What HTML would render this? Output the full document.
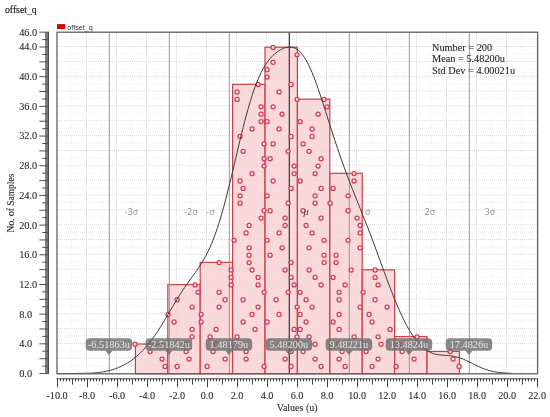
<!DOCTYPE html><html><head><meta charset="utf-8"><style>html,body{margin:0;padding:0;background:#fff;width:550px;height:417px;overflow:hidden}svg{display:block}</style></head><body>
<svg width="550" height="417" viewBox="0 0 550 417">
<style>.t{font-family:"Liberation Serif",serif;fill:#262626;stroke:#262626;stroke-width:0.08px}.s{font-family:"Liberation Sans",sans-serif;fill:#333}</style>
<rect width="550" height="417" fill="#fff"/>
<text x="5" y="13.0" class="t" font-size="9.7" style="stroke-width:0.2px">offset_q</text>
<rect x="57" y="24.1" width="8.2" height="5" fill="#e00000"/>
<text x="67.3" y="29.7" class="s" font-size="7.2">offset_q</text>
<line x1="71.50" y1="33.2" x2="71.50" y2="373.0" stroke="#efefef" stroke-width="1" stroke-dasharray="1 1"/><line x1="86.50" y1="33.2" x2="86.50" y2="373.0" stroke="#d6d6d6" stroke-width="1" stroke-dasharray="1 1"/><line x1="101.50" y1="33.2" x2="101.50" y2="373.0" stroke="#efefef" stroke-width="1" stroke-dasharray="1 1"/><line x1="116.50" y1="33.2" x2="116.50" y2="373.0" stroke="#d6d6d6" stroke-width="1" stroke-dasharray="1 1"/><line x1="131.50" y1="33.2" x2="131.50" y2="373.0" stroke="#efefef" stroke-width="1" stroke-dasharray="1 1"/><line x1="146.50" y1="33.2" x2="146.50" y2="373.0" stroke="#d6d6d6" stroke-width="1" stroke-dasharray="1 1"/><line x1="161.50" y1="33.2" x2="161.50" y2="373.0" stroke="#efefef" stroke-width="1" stroke-dasharray="1 1"/><line x1="176.50" y1="33.2" x2="176.50" y2="373.0" stroke="#d6d6d6" stroke-width="1" stroke-dasharray="1 1"/><line x1="191.50" y1="33.2" x2="191.50" y2="373.0" stroke="#efefef" stroke-width="1" stroke-dasharray="1 1"/><line x1="206.50" y1="33.2" x2="206.50" y2="373.0" stroke="#d6d6d6" stroke-width="1" stroke-dasharray="1 1"/><line x1="221.50" y1="33.2" x2="221.50" y2="373.0" stroke="#efefef" stroke-width="1" stroke-dasharray="1 1"/><line x1="236.50" y1="33.2" x2="236.50" y2="373.0" stroke="#d6d6d6" stroke-width="1" stroke-dasharray="1 1"/><line x1="251.50" y1="33.2" x2="251.50" y2="373.0" stroke="#efefef" stroke-width="1" stroke-dasharray="1 1"/><line x1="266.50" y1="33.2" x2="266.50" y2="373.0" stroke="#d6d6d6" stroke-width="1" stroke-dasharray="1 1"/><line x1="281.50" y1="33.2" x2="281.50" y2="373.0" stroke="#efefef" stroke-width="1" stroke-dasharray="1 1"/><line x1="296.50" y1="33.2" x2="296.50" y2="373.0" stroke="#d6d6d6" stroke-width="1" stroke-dasharray="1 1"/><line x1="311.50" y1="33.2" x2="311.50" y2="373.0" stroke="#efefef" stroke-width="1" stroke-dasharray="1 1"/><line x1="326.50" y1="33.2" x2="326.50" y2="373.0" stroke="#d6d6d6" stroke-width="1" stroke-dasharray="1 1"/><line x1="341.50" y1="33.2" x2="341.50" y2="373.0" stroke="#efefef" stroke-width="1" stroke-dasharray="1 1"/><line x1="356.50" y1="33.2" x2="356.50" y2="373.0" stroke="#d6d6d6" stroke-width="1" stroke-dasharray="1 1"/><line x1="371.50" y1="33.2" x2="371.50" y2="373.0" stroke="#efefef" stroke-width="1" stroke-dasharray="1 1"/><line x1="386.50" y1="33.2" x2="386.50" y2="373.0" stroke="#d6d6d6" stroke-width="1" stroke-dasharray="1 1"/><line x1="401.50" y1="33.2" x2="401.50" y2="373.0" stroke="#efefef" stroke-width="1" stroke-dasharray="1 1"/><line x1="416.50" y1="33.2" x2="416.50" y2="373.0" stroke="#d6d6d6" stroke-width="1" stroke-dasharray="1 1"/><line x1="431.50" y1="33.2" x2="431.50" y2="373.0" stroke="#efefef" stroke-width="1" stroke-dasharray="1 1"/><line x1="446.50" y1="33.2" x2="446.50" y2="373.0" stroke="#d6d6d6" stroke-width="1" stroke-dasharray="1 1"/><line x1="461.50" y1="33.2" x2="461.50" y2="373.0" stroke="#efefef" stroke-width="1" stroke-dasharray="1 1"/><line x1="476.50" y1="33.2" x2="476.50" y2="373.0" stroke="#d6d6d6" stroke-width="1" stroke-dasharray="1 1"/><line x1="491.50" y1="33.2" x2="491.50" y2="373.0" stroke="#efefef" stroke-width="1" stroke-dasharray="1 1"/><line x1="506.50" y1="33.2" x2="506.50" y2="373.0" stroke="#d6d6d6" stroke-width="1" stroke-dasharray="1 1"/><line x1="521.50" y1="33.2" x2="521.50" y2="373.0" stroke="#efefef" stroke-width="1" stroke-dasharray="1 1"/><line x1="58.0" y1="365.68" x2="536.6" y2="365.68" stroke="#efefef" stroke-width="1" stroke-dasharray="1 1"/><line x1="58.0" y1="358.26" x2="536.6" y2="358.26" stroke="#d6d6d6" stroke-width="1" stroke-dasharray="1 1"/><line x1="58.0" y1="350.84" x2="536.6" y2="350.84" stroke="#efefef" stroke-width="1" stroke-dasharray="1 1"/><line x1="58.0" y1="343.42" x2="536.6" y2="343.42" stroke="#d6d6d6" stroke-width="1" stroke-dasharray="1 1"/><line x1="58.0" y1="336.00" x2="536.6" y2="336.00" stroke="#efefef" stroke-width="1" stroke-dasharray="1 1"/><line x1="58.0" y1="328.58" x2="536.6" y2="328.58" stroke="#d6d6d6" stroke-width="1" stroke-dasharray="1 1"/><line x1="58.0" y1="321.16" x2="536.6" y2="321.16" stroke="#efefef" stroke-width="1" stroke-dasharray="1 1"/><line x1="58.0" y1="313.74" x2="536.6" y2="313.74" stroke="#d6d6d6" stroke-width="1" stroke-dasharray="1 1"/><line x1="58.0" y1="306.32" x2="536.6" y2="306.32" stroke="#efefef" stroke-width="1" stroke-dasharray="1 1"/><line x1="58.0" y1="298.90" x2="536.6" y2="298.90" stroke="#d6d6d6" stroke-width="1" stroke-dasharray="1 1"/><line x1="58.0" y1="291.48" x2="536.6" y2="291.48" stroke="#efefef" stroke-width="1" stroke-dasharray="1 1"/><line x1="58.0" y1="284.06" x2="536.6" y2="284.06" stroke="#d6d6d6" stroke-width="1" stroke-dasharray="1 1"/><line x1="58.0" y1="276.64" x2="536.6" y2="276.64" stroke="#efefef" stroke-width="1" stroke-dasharray="1 1"/><line x1="58.0" y1="269.22" x2="536.6" y2="269.22" stroke="#d6d6d6" stroke-width="1" stroke-dasharray="1 1"/><line x1="58.0" y1="261.80" x2="536.6" y2="261.80" stroke="#efefef" stroke-width="1" stroke-dasharray="1 1"/><line x1="58.0" y1="254.38" x2="536.6" y2="254.38" stroke="#d6d6d6" stroke-width="1" stroke-dasharray="1 1"/><line x1="58.0" y1="246.96" x2="536.6" y2="246.96" stroke="#efefef" stroke-width="1" stroke-dasharray="1 1"/><line x1="58.0" y1="239.54" x2="536.6" y2="239.54" stroke="#d6d6d6" stroke-width="1" stroke-dasharray="1 1"/><line x1="58.0" y1="232.12" x2="536.6" y2="232.12" stroke="#efefef" stroke-width="1" stroke-dasharray="1 1"/><line x1="58.0" y1="224.70" x2="536.6" y2="224.70" stroke="#d6d6d6" stroke-width="1" stroke-dasharray="1 1"/><line x1="58.0" y1="217.28" x2="536.6" y2="217.28" stroke="#efefef" stroke-width="1" stroke-dasharray="1 1"/><line x1="58.0" y1="209.86" x2="536.6" y2="209.86" stroke="#d6d6d6" stroke-width="1" stroke-dasharray="1 1"/><line x1="58.0" y1="202.44" x2="536.6" y2="202.44" stroke="#efefef" stroke-width="1" stroke-dasharray="1 1"/><line x1="58.0" y1="195.02" x2="536.6" y2="195.02" stroke="#d6d6d6" stroke-width="1" stroke-dasharray="1 1"/><line x1="58.0" y1="187.60" x2="536.6" y2="187.60" stroke="#efefef" stroke-width="1" stroke-dasharray="1 1"/><line x1="58.0" y1="180.18" x2="536.6" y2="180.18" stroke="#d6d6d6" stroke-width="1" stroke-dasharray="1 1"/><line x1="58.0" y1="172.76" x2="536.6" y2="172.76" stroke="#efefef" stroke-width="1" stroke-dasharray="1 1"/><line x1="58.0" y1="165.34" x2="536.6" y2="165.34" stroke="#d6d6d6" stroke-width="1" stroke-dasharray="1 1"/><line x1="58.0" y1="157.92" x2="536.6" y2="157.92" stroke="#efefef" stroke-width="1" stroke-dasharray="1 1"/><line x1="58.0" y1="150.50" x2="536.6" y2="150.50" stroke="#d6d6d6" stroke-width="1" stroke-dasharray="1 1"/><line x1="58.0" y1="143.08" x2="536.6" y2="143.08" stroke="#efefef" stroke-width="1" stroke-dasharray="1 1"/><line x1="58.0" y1="135.66" x2="536.6" y2="135.66" stroke="#d6d6d6" stroke-width="1" stroke-dasharray="1 1"/><line x1="58.0" y1="128.24" x2="536.6" y2="128.24" stroke="#efefef" stroke-width="1" stroke-dasharray="1 1"/><line x1="58.0" y1="120.82" x2="536.6" y2="120.82" stroke="#d6d6d6" stroke-width="1" stroke-dasharray="1 1"/><line x1="58.0" y1="113.40" x2="536.6" y2="113.40" stroke="#efefef" stroke-width="1" stroke-dasharray="1 1"/><line x1="58.0" y1="105.98" x2="536.6" y2="105.98" stroke="#d6d6d6" stroke-width="1" stroke-dasharray="1 1"/><line x1="58.0" y1="98.56" x2="536.6" y2="98.56" stroke="#efefef" stroke-width="1" stroke-dasharray="1 1"/><line x1="58.0" y1="91.14" x2="536.6" y2="91.14" stroke="#d6d6d6" stroke-width="1" stroke-dasharray="1 1"/><line x1="58.0" y1="83.72" x2="536.6" y2="83.72" stroke="#efefef" stroke-width="1" stroke-dasharray="1 1"/><line x1="58.0" y1="76.30" x2="536.6" y2="76.30" stroke="#d6d6d6" stroke-width="1" stroke-dasharray="1 1"/><line x1="58.0" y1="68.88" x2="536.6" y2="68.88" stroke="#efefef" stroke-width="1" stroke-dasharray="1 1"/><line x1="58.0" y1="61.46" x2="536.6" y2="61.46" stroke="#d6d6d6" stroke-width="1" stroke-dasharray="1 1"/><line x1="58.0" y1="54.04" x2="536.6" y2="54.04" stroke="#efefef" stroke-width="1" stroke-dasharray="1 1"/><line x1="58.0" y1="46.62" x2="536.6" y2="46.62" stroke="#d6d6d6" stroke-width="1" stroke-dasharray="1 1"/><line x1="58.0" y1="39.20" x2="536.6" y2="39.20" stroke="#efefef" stroke-width="1" stroke-dasharray="1 1"/>
<rect x="135.40" y="344.02" width="32.40" height="29.78" fill="#f8d0d2" fill-opacity="0.8" stroke="#cc4048" stroke-width="1.2"/><rect x="167.80" y="284.66" width="32.40" height="89.14" fill="#f8d0d2" fill-opacity="0.8" stroke="#cc4048" stroke-width="1.2"/><rect x="200.20" y="262.40" width="32.40" height="111.40" fill="#f8d0d2" fill-opacity="0.8" stroke="#cc4048" stroke-width="1.2"/><rect x="232.60" y="84.32" width="32.40" height="289.48" fill="#f8d0d2" fill-opacity="0.8" stroke="#cc4048" stroke-width="1.2"/><rect x="265.00" y="47.22" width="32.40" height="326.58" fill="#f8d0d2" fill-opacity="0.8" stroke="#cc4048" stroke-width="1.2"/><rect x="297.40" y="99.16" width="32.40" height="274.64" fill="#f8d0d2" fill-opacity="0.8" stroke="#cc4048" stroke-width="1.2"/><rect x="329.80" y="173.36" width="32.40" height="200.44" fill="#f8d0d2" fill-opacity="0.8" stroke="#cc4048" stroke-width="1.2"/><rect x="362.20" y="269.82" width="32.40" height="103.98" fill="#f8d0d2" fill-opacity="0.8" stroke="#cc4048" stroke-width="1.2"/><rect x="394.60" y="336.60" width="32.40" height="37.20" fill="#f8d0d2" fill-opacity="0.8" stroke="#cc4048" stroke-width="1.2"/><rect x="427.00" y="351.44" width="32.40" height="22.36" fill="#f8d0d2" fill-opacity="0.8" stroke="#cc4048" stroke-width="1.2"/>
<line x1="109.32" y1="32.2" x2="109.32" y2="373.8" stroke="#9a9a9a" stroke-width="1"/>
<line x1="169.32" y1="32.2" x2="169.32" y2="373.8" stroke="#9a9a9a" stroke-width="1"/>
<line x1="229.33" y1="32.2" x2="229.33" y2="373.8" stroke="#9a9a9a" stroke-width="1"/>
<line x1="349.33" y1="32.2" x2="349.33" y2="373.8" stroke="#9a9a9a" stroke-width="1"/>
<line x1="409.34" y1="32.2" x2="409.34" y2="373.8" stroke="#9a9a9a" stroke-width="1"/>
<line x1="469.34" y1="32.2" x2="469.34" y2="373.8" stroke="#9a9a9a" stroke-width="1"/>
<line x1="289.33" y1="32.2" x2="289.33" y2="373.8" stroke="#444" stroke-width="1.3"/>
<g fill="#fcecea" fill-opacity="0.85" stroke="#d43a50" stroke-width="1.25"><circle cx="165.1" cy="366.5" r="2.05"/><circle cx="162.1" cy="359.1" r="2.05"/><circle cx="150.1" cy="351.6" r="2.05"/><circle cx="135.1" cy="344.2" r="2.05"/><circle cx="177.1" cy="366.5" r="2.05"/><circle cx="189.1" cy="359.1" r="2.05"/><circle cx="186.1" cy="351.6" r="2.05"/><circle cx="186.1" cy="344.2" r="2.05"/><circle cx="192.1" cy="336.8" r="2.05"/><circle cx="192.1" cy="329.4" r="2.05"/><circle cx="174.1" cy="322.0" r="2.05"/><circle cx="168.1" cy="314.5" r="2.05"/><circle cx="192.1" cy="307.1" r="2.05"/><circle cx="177.1" cy="299.7" r="2.05"/><circle cx="198.1" cy="292.3" r="2.05"/><circle cx="195.1" cy="284.9" r="2.05"/><circle cx="207.1" cy="366.5" r="2.05"/><circle cx="225.1" cy="359.1" r="2.05"/><circle cx="213.1" cy="351.6" r="2.05"/><circle cx="216.1" cy="344.2" r="2.05"/><circle cx="210.1" cy="336.8" r="2.05"/><circle cx="216.1" cy="329.4" r="2.05"/><circle cx="201.1" cy="322.0" r="2.05"/><circle cx="201.1" cy="314.5" r="2.05"/><circle cx="219.1" cy="307.1" r="2.05"/><circle cx="225.1" cy="299.7" r="2.05"/><circle cx="219.1" cy="292.3" r="2.05"/><circle cx="231.1" cy="284.9" r="2.05"/><circle cx="231.1" cy="277.4" r="2.05"/><circle cx="231.1" cy="270.0" r="2.05"/><circle cx="219.1" cy="262.6" r="2.05"/><circle cx="264.1" cy="366.5" r="2.05"/><circle cx="246.1" cy="359.1" r="2.05"/><circle cx="246.1" cy="351.6" r="2.05"/><circle cx="234.1" cy="344.2" r="2.05"/><circle cx="237.1" cy="336.8" r="2.05"/><circle cx="255.1" cy="329.4" r="2.05"/><circle cx="243.1" cy="322.0" r="2.05"/><circle cx="252.1" cy="314.5" r="2.05"/><circle cx="258.1" cy="307.1" r="2.05"/><circle cx="243.1" cy="299.7" r="2.05"/><circle cx="264.1" cy="292.3" r="2.05"/><circle cx="258.1" cy="284.9" r="2.05"/><circle cx="258.1" cy="277.4" r="2.05"/><circle cx="252.1" cy="270.0" r="2.05"/><circle cx="249.1" cy="262.6" r="2.05"/><circle cx="249.1" cy="255.2" r="2.05"/><circle cx="249.1" cy="247.8" r="2.05"/><circle cx="234.1" cy="240.3" r="2.05"/><circle cx="246.1" cy="232.9" r="2.05"/><circle cx="249.1" cy="225.5" r="2.05"/><circle cx="261.1" cy="218.1" r="2.05"/><circle cx="264.1" cy="210.7" r="2.05"/><circle cx="240.1" cy="203.2" r="2.05"/><circle cx="240.1" cy="195.8" r="2.05"/><circle cx="243.1" cy="188.4" r="2.05"/><circle cx="240.1" cy="181.0" r="2.05"/><circle cx="252.1" cy="173.6" r="2.05"/><circle cx="264.1" cy="166.1" r="2.05"/><circle cx="264.1" cy="158.7" r="2.05"/><circle cx="243.1" cy="151.3" r="2.05"/><circle cx="264.1" cy="143.9" r="2.05"/><circle cx="240.1" cy="136.5" r="2.05"/><circle cx="252.1" cy="129.0" r="2.05"/><circle cx="261.1" cy="121.6" r="2.05"/><circle cx="261.1" cy="114.2" r="2.05"/><circle cx="261.1" cy="106.8" r="2.05"/><circle cx="237.1" cy="99.4" r="2.05"/><circle cx="237.1" cy="91.9" r="2.05"/><circle cx="258.1" cy="84.5" r="2.05"/><circle cx="291.1" cy="366.5" r="2.05"/><circle cx="285.1" cy="359.1" r="2.05"/><circle cx="291.1" cy="351.6" r="2.05"/><circle cx="297.1" cy="344.2" r="2.05"/><circle cx="297.1" cy="336.8" r="2.05"/><circle cx="294.1" cy="329.4" r="2.05"/><circle cx="267.1" cy="322.0" r="2.05"/><circle cx="279.1" cy="314.5" r="2.05"/><circle cx="297.1" cy="307.1" r="2.05"/><circle cx="276.1" cy="299.7" r="2.05"/><circle cx="288.1" cy="292.3" r="2.05"/><circle cx="294.1" cy="284.9" r="2.05"/><circle cx="291.1" cy="277.4" r="2.05"/><circle cx="285.1" cy="270.0" r="2.05"/><circle cx="291.1" cy="262.6" r="2.05"/><circle cx="270.1" cy="255.2" r="2.05"/><circle cx="282.1" cy="247.8" r="2.05"/><circle cx="267.1" cy="240.3" r="2.05"/><circle cx="279.1" cy="232.9" r="2.05"/><circle cx="285.1" cy="225.5" r="2.05"/><circle cx="285.1" cy="218.1" r="2.05"/><circle cx="270.1" cy="210.7" r="2.05"/><circle cx="288.1" cy="203.2" r="2.05"/><circle cx="267.1" cy="195.8" r="2.05"/><circle cx="291.1" cy="188.4" r="2.05"/><circle cx="273.1" cy="181.0" r="2.05"/><circle cx="294.1" cy="173.6" r="2.05"/><circle cx="294.1" cy="166.1" r="2.05"/><circle cx="270.1" cy="158.7" r="2.05"/><circle cx="288.1" cy="151.3" r="2.05"/><circle cx="273.1" cy="143.9" r="2.05"/><circle cx="291.1" cy="136.5" r="2.05"/><circle cx="279.1" cy="129.0" r="2.05"/><circle cx="267.1" cy="121.6" r="2.05"/><circle cx="282.1" cy="114.2" r="2.05"/><circle cx="273.1" cy="106.8" r="2.05"/><circle cx="297.1" cy="99.4" r="2.05"/><circle cx="279.1" cy="91.9" r="2.05"/><circle cx="291.1" cy="84.5" r="2.05"/><circle cx="267.1" cy="77.1" r="2.05"/><circle cx="267.1" cy="69.7" r="2.05"/><circle cx="273.1" cy="62.3" r="2.05"/><circle cx="297.1" cy="54.8" r="2.05"/><circle cx="273.1" cy="47.4" r="2.05"/><circle cx="321.1" cy="366.5" r="2.05"/><circle cx="315.1" cy="359.1" r="2.05"/><circle cx="303.1" cy="351.6" r="2.05"/><circle cx="315.1" cy="344.2" r="2.05"/><circle cx="309.1" cy="336.8" r="2.05"/><circle cx="300.1" cy="329.4" r="2.05"/><circle cx="306.1" cy="322.0" r="2.05"/><circle cx="300.1" cy="314.5" r="2.05"/><circle cx="312.1" cy="307.1" r="2.05"/><circle cx="306.1" cy="299.7" r="2.05"/><circle cx="300.1" cy="292.3" r="2.05"/><circle cx="321.1" cy="284.9" r="2.05"/><circle cx="315.1" cy="277.4" r="2.05"/><circle cx="309.1" cy="270.0" r="2.05"/><circle cx="324.1" cy="262.6" r="2.05"/><circle cx="324.1" cy="255.2" r="2.05"/><circle cx="309.1" cy="247.8" r="2.05"/><circle cx="324.1" cy="240.3" r="2.05"/><circle cx="312.1" cy="232.9" r="2.05"/><circle cx="306.1" cy="225.5" r="2.05"/><circle cx="321.1" cy="218.1" r="2.05"/><circle cx="303.1" cy="210.7" r="2.05"/><circle cx="315.1" cy="203.2" r="2.05"/><circle cx="315.1" cy="195.8" r="2.05"/><circle cx="321.1" cy="188.4" r="2.05"/><circle cx="300.1" cy="181.0" r="2.05"/><circle cx="315.1" cy="173.6" r="2.05"/><circle cx="318.1" cy="166.1" r="2.05"/><circle cx="321.1" cy="158.7" r="2.05"/><circle cx="309.1" cy="151.3" r="2.05"/><circle cx="303.1" cy="143.9" r="2.05"/><circle cx="312.1" cy="136.5" r="2.05"/><circle cx="312.1" cy="129.0" r="2.05"/><circle cx="300.1" cy="121.6" r="2.05"/><circle cx="318.1" cy="114.2" r="2.05"/><circle cx="327.1" cy="106.8" r="2.05"/><circle cx="324.1" cy="99.4" r="2.05"/><circle cx="345.1" cy="366.5" r="2.05"/><circle cx="339.1" cy="359.1" r="2.05"/><circle cx="342.1" cy="351.6" r="2.05"/><circle cx="339.1" cy="344.2" r="2.05"/><circle cx="354.1" cy="336.8" r="2.05"/><circle cx="339.1" cy="329.4" r="2.05"/><circle cx="333.1" cy="322.0" r="2.05"/><circle cx="339.1" cy="314.5" r="2.05"/><circle cx="360.1" cy="307.1" r="2.05"/><circle cx="339.1" cy="299.7" r="2.05"/><circle cx="339.1" cy="292.3" r="2.05"/><circle cx="345.1" cy="284.9" r="2.05"/><circle cx="333.1" cy="277.4" r="2.05"/><circle cx="351.1" cy="270.0" r="2.05"/><circle cx="336.1" cy="262.6" r="2.05"/><circle cx="336.1" cy="255.2" r="2.05"/><circle cx="360.1" cy="247.8" r="2.05"/><circle cx="348.1" cy="240.3" r="2.05"/><circle cx="360.1" cy="232.9" r="2.05"/><circle cx="360.1" cy="225.5" r="2.05"/><circle cx="357.1" cy="218.1" r="2.05"/><circle cx="348.1" cy="210.7" r="2.05"/><circle cx="330.1" cy="203.2" r="2.05"/><circle cx="348.1" cy="195.8" r="2.05"/><circle cx="333.1" cy="188.4" r="2.05"/><circle cx="354.1" cy="181.0" r="2.05"/><circle cx="354.1" cy="173.6" r="2.05"/><circle cx="372.1" cy="366.5" r="2.05"/><circle cx="378.1" cy="359.1" r="2.05"/><circle cx="366.1" cy="351.6" r="2.05"/><circle cx="381.1" cy="344.2" r="2.05"/><circle cx="378.1" cy="336.8" r="2.05"/><circle cx="390.1" cy="329.4" r="2.05"/><circle cx="372.1" cy="322.0" r="2.05"/><circle cx="369.1" cy="314.5" r="2.05"/><circle cx="387.1" cy="307.1" r="2.05"/><circle cx="375.1" cy="299.7" r="2.05"/><circle cx="363.1" cy="292.3" r="2.05"/><circle cx="378.1" cy="284.9" r="2.05"/><circle cx="375.1" cy="277.4" r="2.05"/><circle cx="375.1" cy="270.0" r="2.05"/><circle cx="396.1" cy="366.5" r="2.05"/><circle cx="414.1" cy="359.1" r="2.05"/><circle cx="402.1" cy="351.6" r="2.05"/><circle cx="399.1" cy="344.2" r="2.05"/><circle cx="417.1" cy="336.8" r="2.05"/><circle cx="459.1" cy="366.5" r="2.05"/><circle cx="453.1" cy="359.1" r="2.05"/><circle cx="450.1" cy="351.6" r="2.05"/></g>
<path d="M57.1,373.5 L58.6,373.5 L60.1,373.5 L61.6,373.5 L63.1,373.5 L64.6,373.5 L66.1,373.5 L67.6,373.5 L69.1,373.5 L70.6,373.5 L72.1,373.5 L73.6,373.5 L75.1,373.5 L76.6,373.4 L78.1,373.4 L79.6,373.4 L81.1,373.4 L82.6,373.4 L84.1,373.3 L85.6,373.3 L87.1,373.3 L88.6,373.2 L90.1,373.1 L91.6,373.1 L93.1,373.0 L94.6,372.9 L96.1,372.7 L97.6,372.6 L99.1,372.4 L100.6,372.2 L102.1,372.0 L103.6,371.8 L105.1,371.5 L106.6,371.2 L108.1,370.9 L109.6,370.5 L111.1,370.1 L112.6,369.7 L114.1,369.2 L115.6,368.7 L117.1,368.1 L118.6,367.5 L120.1,366.9 L121.6,366.2 L123.1,365.4 L124.6,364.7 L126.1,363.8 L127.6,362.9 L129.1,362.0 L130.6,361.0 L132.1,359.9 L133.6,358.8 L135.1,357.6 L136.6,356.4 L138.1,355.1 L139.6,353.7 L141.1,352.2 L142.6,350.7 L144.1,349.1 L145.6,347.4 L147.1,345.7 L148.6,343.9 L150.1,342.0 L151.6,340.0 L153.1,337.9 L154.6,335.8 L156.1,333.6 L157.6,331.4 L159.1,329.1 L160.6,326.7 L162.1,324.3 L163.6,321.8 L165.1,319.3 L166.6,316.8 L168.1,314.3 L169.6,311.7 L171.1,309.2 L172.6,306.7 L174.1,304.1 L175.6,301.7 L177.1,299.2 L178.6,296.8 L180.1,294.4 L181.6,292.1 L183.1,289.8 L184.6,287.5 L186.1,285.3 L187.6,283.2 L189.1,281.0 L190.6,278.9 L192.1,276.9 L193.6,274.8 L195.1,272.7 L196.6,270.6 L198.1,268.4 L199.6,266.2 L201.1,263.9 L202.6,261.4 L204.1,258.9 L205.6,256.2 L207.1,253.4 L208.6,250.3 L210.1,247.1 L211.6,243.6 L213.1,239.9 L214.6,236.0 L216.1,231.8 L217.6,227.4 L219.1,222.7 L220.6,217.8 L222.1,212.7 L223.6,207.3 L225.1,201.7 L226.6,195.9 L228.1,190.0 L229.6,183.9 L231.1,177.7 L232.6,171.4 L234.1,165.1 L235.6,158.7 L237.1,152.4 L238.6,146.0 L240.1,139.8 L241.6,133.6 L243.1,127.6 L244.6,121.7 L246.1,116.0 L247.6,110.6 L249.1,105.3 L250.6,100.3 L252.1,95.5 L253.6,91.0 L255.1,86.8 L256.6,82.8 L258.1,79.2 L259.6,75.8 L261.1,72.6 L262.6,69.7 L264.1,67.1 L265.6,64.6 L267.1,62.4 L268.6,60.4 L270.1,58.6 L271.6,56.9 L273.1,55.4 L274.6,54.0 L276.1,52.8 L277.6,51.6 L279.1,50.6 L280.6,49.8 L282.1,49.0 L283.6,48.3 L285.1,47.8 L286.6,47.4 L288.1,47.1 L289.6,47.0 L291.1,47.1 L292.6,47.3 L294.1,47.8 L295.6,48.5 L297.1,49.4 L298.6,50.5 L300.1,51.9 L301.6,53.6 L303.1,55.5 L304.6,57.7 L306.1,60.2 L307.6,62.9 L309.1,65.9 L310.6,69.2 L312.1,72.6 L313.6,76.3 L315.1,80.3 L316.6,84.3 L318.1,88.6 L319.6,93.0 L321.1,97.5 L322.6,102.1 L324.1,106.7 L325.6,111.4 L327.1,116.2 L328.6,120.9 L330.1,125.6 L331.6,130.3 L333.1,135.0 L334.6,139.6 L336.1,144.1 L337.6,148.6 L339.1,153.0 L340.6,157.4 L342.1,161.6 L343.6,165.8 L345.1,169.9 L346.6,173.9 L348.1,177.9 L349.6,181.8 L351.1,185.7 L352.6,189.5 L354.1,193.3 L355.6,197.1 L357.1,200.8 L358.6,204.5 L360.1,208.3 L361.6,212.0 L363.1,215.8 L364.6,219.6 L366.1,223.4 L367.6,227.2 L369.1,231.1 L370.6,235.0 L372.1,239.0 L373.6,243.0 L375.1,247.0 L376.6,251.1 L378.1,255.2 L379.6,259.3 L381.1,263.4 L382.6,267.5 L384.1,271.6 L385.6,275.7 L387.1,279.7 L388.6,283.8 L390.1,287.7 L391.6,291.6 L393.1,295.5 L394.6,299.2 L396.1,302.9 L397.6,306.4 L399.1,309.9 L400.6,313.2 L402.1,316.4 L403.6,319.5 L405.1,322.5 L406.6,325.3 L408.1,328.0 L409.6,330.6 L411.1,333.0 L412.6,335.3 L414.1,337.5 L415.6,339.5 L417.1,341.4 L418.6,343.2 L420.1,344.8 L421.6,346.3 L423.1,347.6 L424.6,348.9 L426.1,350.0 L427.6,350.9 L429.1,351.8 L430.6,352.5 L432.1,353.1 L433.6,353.6 L435.1,354.1 L436.6,354.4 L438.1,354.7 L439.6,354.9 L441.1,355.1 L442.6,355.2 L444.1,355.3 L445.6,355.4 L447.1,355.5 L448.6,355.7 L450.1,355.8 L451.6,356.0 L453.1,356.2 L454.6,356.5 L456.1,356.9 L457.6,357.2 L459.1,357.7 L460.6,358.2 L462.1,358.7 L463.6,359.3 L465.1,360.0 L466.6,360.7 L468.1,361.4 L469.6,362.1 L471.1,362.8 L472.6,363.6 L474.1,364.3 L475.6,365.1 L477.1,365.8 L478.6,366.5 L480.1,367.2 L481.6,367.8 L483.1,368.4 L484.6,369.0 L486.1,369.5 L487.6,370.0 L489.1,370.5 L490.6,370.9 L492.1,371.2 L493.6,371.6 L495.1,371.8 L496.6,372.1 L498.1,372.3 L499.6,372.5 L501.1,372.7 L502.6,372.8 L504.1,372.9 L505.6,373.0 L507.1,373.1 L508.6,373.2 L510.1,373.3 L511.6,373.3" fill="none" stroke="#3a3a3a" stroke-width="1"/>
<rect x="57.0" y="32.2" width="480.6" height="341.6" fill="none" stroke="#606060" stroke-width="1.3"/>
<text x="124.4" y="214.8" font-family="DejaVu Sans, sans-serif" font-size="8.5" fill="#999">-3σ</text>
<text x="184.0" y="214.8" font-family="DejaVu Sans, sans-serif" font-size="8.5" fill="#999">-2σ</text>
<text x="206.1" y="214.8" font-family="DejaVu Sans, sans-serif" font-size="8.5" fill="#999">-σ</text>
<text x="303.6" y="215.3" font-family="Liberation Serif, serif" font-style="italic" font-size="10" fill="#444">μ</text>
<text x="365.0" y="214.8" font-family="DejaVu Sans, sans-serif" font-size="8.5" fill="#999">σ</text>
<text x="424.4" y="214.8" font-family="DejaVu Sans, sans-serif" font-size="8.5" fill="#999">2σ</text>
<text x="484.4" y="214.8" font-family="DejaVu Sans, sans-serif" font-size="8.5" fill="#999">3σ</text>
<text x="432" y="50.7" class="t" font-size="10.3">Number = 200</text>
<text x="432" y="62.3" class="t" font-size="10.3">Mean = 5.48200u</text>
<text x="432" y="73.9" class="t" font-size="10.3">Std Dev = 4.00021u</text>
<g><path d="M89.67,338.3 h38.5 a4,4 0 0 1 4,4 v4.4 a4,4 0 0 1 -4,4 h-15.75 l-3.5,4.3 l-3.5,-4.3 h-15.75 a4,4 0 0 1 -4,-4 v-4.4 a4,4 0 0 1 4,-4 z" fill="#6a6a6a" fill-opacity="0.8"/><text x="108.92" y="347.7" text-anchor="middle" font-family="Liberation Serif, serif" font-size="10.3" fill="#e4e4e4">-6.51863u</text></g>
<g><path d="M149.67,338.3 h38.5 a4,4 0 0 1 4,4 v4.4 a4,4 0 0 1 -4,4 h-15.75 l-3.5,4.3 l-3.5,-4.3 h-15.75 a4,4 0 0 1 -4,-4 v-4.4 a4,4 0 0 1 4,-4 z" fill="#6a6a6a" fill-opacity="0.8"/><text x="168.92" y="347.7" text-anchor="middle" font-family="Liberation Serif, serif" font-size="10.3" fill="#e4e4e4">-2.51842u</text></g>
<g><path d="M209.68,338.3 h38.5 a4,4 0 0 1 4,4 v4.4 a4,4 0 0 1 -4,4 h-15.75 l-3.5,4.3 l-3.5,-4.3 h-15.75 a4,4 0 0 1 -4,-4 v-4.4 a4,4 0 0 1 4,-4 z" fill="#6a6a6a" fill-opacity="0.8"/><text x="228.93" y="347.7" text-anchor="middle" font-family="Liberation Serif, serif" font-size="10.3" fill="#e4e4e4">1.48179u</text></g>
<g><path d="M269.68,338.3 h38.5 a4,4 0 0 1 4,4 v4.4 a4,4 0 0 1 -4,4 h-15.75 l-3.5,4.3 l-3.5,-4.3 h-15.75 a4,4 0 0 1 -4,-4 v-4.4 a4,4 0 0 1 4,-4 z" fill="#6a6a6a" fill-opacity="0.8"/><text x="288.93" y="347.7" text-anchor="middle" font-family="Liberation Serif, serif" font-size="10.3" fill="#e4e4e4">5.48200u</text></g>
<g><path d="M329.68,338.3 h38.5 a4,4 0 0 1 4,4 v4.4 a4,4 0 0 1 -4,4 h-15.75 l-3.5,4.3 l-3.5,-4.3 h-15.75 a4,4 0 0 1 -4,-4 v-4.4 a4,4 0 0 1 4,-4 z" fill="#6a6a6a" fill-opacity="0.8"/><text x="348.93" y="347.7" text-anchor="middle" font-family="Liberation Serif, serif" font-size="10.3" fill="#e4e4e4">9.48221u</text></g>
<g><path d="M389.69,338.3 h38.5 a4,4 0 0 1 4,4 v4.4 a4,4 0 0 1 -4,4 h-15.75 l-3.5,4.3 l-3.5,-4.3 h-15.75 a4,4 0 0 1 -4,-4 v-4.4 a4,4 0 0 1 4,-4 z" fill="#6a6a6a" fill-opacity="0.8"/><text x="408.94" y="347.7" text-anchor="middle" font-family="Liberation Serif, serif" font-size="10.3" fill="#e4e4e4">13.4824u</text></g>
<g><path d="M449.69,338.3 h38.5 a4,4 0 0 1 4,4 v4.4 a4,4 0 0 1 -4,4 h-15.75 l-3.5,4.3 l-3.5,-4.3 h-15.75 a4,4 0 0 1 -4,-4 v-4.4 a4,4 0 0 1 4,-4 z" fill="#6a6a6a" fill-opacity="0.8"/><text x="468.94" y="347.7" text-anchor="middle" font-family="Liberation Serif, serif" font-size="10.3" fill="#e4e4e4">17.4826u</text></g>
<rect x="45.0" y="32.18" width="3.0" height="341.32" fill="#808080"/><line x1="48.4" y1="31.68" x2="48.4" y2="374.00" stroke="#484848" stroke-width="1.2"/><line x1="39.3" y1="373.50" x2="48.8" y2="373.50" stroke="#505050" stroke-width="1"/><line x1="42.2" y1="366.08" x2="48.8" y2="366.08" stroke="#505050" stroke-width="1"/><line x1="39.3" y1="358.66" x2="48.8" y2="358.66" stroke="#505050" stroke-width="1"/><line x1="42.2" y1="351.24" x2="48.8" y2="351.24" stroke="#505050" stroke-width="1"/><line x1="39.3" y1="343.82" x2="48.8" y2="343.82" stroke="#505050" stroke-width="1"/><line x1="42.2" y1="336.40" x2="48.8" y2="336.40" stroke="#505050" stroke-width="1"/><line x1="39.3" y1="328.98" x2="48.8" y2="328.98" stroke="#505050" stroke-width="1"/><line x1="42.2" y1="321.56" x2="48.8" y2="321.56" stroke="#505050" stroke-width="1"/><line x1="39.3" y1="314.14" x2="48.8" y2="314.14" stroke="#505050" stroke-width="1"/><line x1="42.2" y1="306.72" x2="48.8" y2="306.72" stroke="#505050" stroke-width="1"/><line x1="39.3" y1="299.30" x2="48.8" y2="299.30" stroke="#505050" stroke-width="1"/><line x1="42.2" y1="291.88" x2="48.8" y2="291.88" stroke="#505050" stroke-width="1"/><line x1="39.3" y1="284.46" x2="48.8" y2="284.46" stroke="#505050" stroke-width="1"/><line x1="42.2" y1="277.04" x2="48.8" y2="277.04" stroke="#505050" stroke-width="1"/><line x1="39.3" y1="269.62" x2="48.8" y2="269.62" stroke="#505050" stroke-width="1"/><line x1="42.2" y1="262.20" x2="48.8" y2="262.20" stroke="#505050" stroke-width="1"/><line x1="39.3" y1="254.78" x2="48.8" y2="254.78" stroke="#505050" stroke-width="1"/><line x1="42.2" y1="247.36" x2="48.8" y2="247.36" stroke="#505050" stroke-width="1"/><line x1="39.3" y1="239.94" x2="48.8" y2="239.94" stroke="#505050" stroke-width="1"/><line x1="42.2" y1="232.52" x2="48.8" y2="232.52" stroke="#505050" stroke-width="1"/><line x1="39.3" y1="225.10" x2="48.8" y2="225.10" stroke="#505050" stroke-width="1"/><line x1="42.2" y1="217.68" x2="48.8" y2="217.68" stroke="#505050" stroke-width="1"/><line x1="39.3" y1="210.26" x2="48.8" y2="210.26" stroke="#505050" stroke-width="1"/><line x1="42.2" y1="202.84" x2="48.8" y2="202.84" stroke="#505050" stroke-width="1"/><line x1="39.3" y1="195.42" x2="48.8" y2="195.42" stroke="#505050" stroke-width="1"/><line x1="42.2" y1="188.00" x2="48.8" y2="188.00" stroke="#505050" stroke-width="1"/><line x1="39.3" y1="180.58" x2="48.8" y2="180.58" stroke="#505050" stroke-width="1"/><line x1="42.2" y1="173.16" x2="48.8" y2="173.16" stroke="#505050" stroke-width="1"/><line x1="39.3" y1="165.74" x2="48.8" y2="165.74" stroke="#505050" stroke-width="1"/><line x1="42.2" y1="158.32" x2="48.8" y2="158.32" stroke="#505050" stroke-width="1"/><line x1="39.3" y1="150.90" x2="48.8" y2="150.90" stroke="#505050" stroke-width="1"/><line x1="42.2" y1="143.48" x2="48.8" y2="143.48" stroke="#505050" stroke-width="1"/><line x1="39.3" y1="136.06" x2="48.8" y2="136.06" stroke="#505050" stroke-width="1"/><line x1="42.2" y1="128.64" x2="48.8" y2="128.64" stroke="#505050" stroke-width="1"/><line x1="39.3" y1="121.22" x2="48.8" y2="121.22" stroke="#505050" stroke-width="1"/><line x1="42.2" y1="113.80" x2="48.8" y2="113.80" stroke="#505050" stroke-width="1"/><line x1="39.3" y1="106.38" x2="48.8" y2="106.38" stroke="#505050" stroke-width="1"/><line x1="42.2" y1="98.96" x2="48.8" y2="98.96" stroke="#505050" stroke-width="1"/><line x1="39.3" y1="91.54" x2="48.8" y2="91.54" stroke="#505050" stroke-width="1"/><line x1="42.2" y1="84.12" x2="48.8" y2="84.12" stroke="#505050" stroke-width="1"/><line x1="39.3" y1="76.70" x2="48.8" y2="76.70" stroke="#505050" stroke-width="1"/><line x1="42.2" y1="69.28" x2="48.8" y2="69.28" stroke="#505050" stroke-width="1"/><line x1="39.3" y1="61.86" x2="48.8" y2="61.86" stroke="#505050" stroke-width="1"/><line x1="42.2" y1="54.44" x2="48.8" y2="54.44" stroke="#505050" stroke-width="1"/><line x1="39.3" y1="47.02" x2="48.8" y2="47.02" stroke="#505050" stroke-width="1"/><line x1="42.2" y1="39.60" x2="48.8" y2="39.60" stroke="#505050" stroke-width="1"/><line x1="39.3" y1="32.18" x2="48.8" y2="32.18" stroke="#505050" stroke-width="1"/>
<text x="19.2" y="35.58" class="t" font-size="10.3">46.0</text>
<text x="19.2" y="50.42" class="t" font-size="10.3">44.0</text>
<text x="19.2" y="80.10" class="t" font-size="10.3">40.0</text>
<text x="19.2" y="109.78" class="t" font-size="10.3">36.0</text>
<text x="19.2" y="139.46" class="t" font-size="10.3">32.0</text>
<text x="19.2" y="169.14" class="t" font-size="10.3">28.0</text>
<text x="19.2" y="198.82" class="t" font-size="10.3">24.0</text>
<text x="19.2" y="228.50" class="t" font-size="10.3">20.0</text>
<text x="19.2" y="258.18" class="t" font-size="10.3">16.0</text>
<text x="19.2" y="287.86" class="t" font-size="10.3">12.0</text>
<text x="19.2" y="317.54" class="t" font-size="10.3">8.0</text>
<text x="19.2" y="347.22" class="t" font-size="10.3">4.0</text>
<text x="19.2" y="376.90" class="t" font-size="10.3">0.0</text>
<text transform="translate(14,203) rotate(-90)" text-anchor="middle" class="t" font-size="9.5">No. of Samples</text>
<line x1="56.60" y1="378.8" x2="537.60" y2="378.8" stroke="#444" stroke-width="1"/><line x1="57.50" y1="378.5" x2="57.50" y2="387.3" stroke="#444" stroke-width="1"/><line x1="60.50" y1="378.5" x2="60.50" y2="381.4" stroke="#444" stroke-width="1"/><line x1="63.50" y1="378.5" x2="63.50" y2="381.4" stroke="#444" stroke-width="1"/><line x1="66.50" y1="378.5" x2="66.50" y2="381.4" stroke="#444" stroke-width="1"/><line x1="69.50" y1="378.5" x2="69.50" y2="381.4" stroke="#444" stroke-width="1"/><line x1="72.50" y1="378.5" x2="72.50" y2="384.6" stroke="#444" stroke-width="1"/><line x1="75.50" y1="378.5" x2="75.50" y2="381.4" stroke="#444" stroke-width="1"/><line x1="78.50" y1="378.5" x2="78.50" y2="381.4" stroke="#444" stroke-width="1"/><line x1="81.50" y1="378.5" x2="81.50" y2="381.4" stroke="#444" stroke-width="1"/><line x1="84.50" y1="378.5" x2="84.50" y2="381.4" stroke="#444" stroke-width="1"/><line x1="87.50" y1="378.5" x2="87.50" y2="387.3" stroke="#444" stroke-width="1"/><line x1="90.50" y1="378.5" x2="90.50" y2="381.4" stroke="#444" stroke-width="1"/><line x1="93.50" y1="378.5" x2="93.50" y2="381.4" stroke="#444" stroke-width="1"/><line x1="96.50" y1="378.5" x2="96.50" y2="381.4" stroke="#444" stroke-width="1"/><line x1="99.50" y1="378.5" x2="99.50" y2="381.4" stroke="#444" stroke-width="1"/><line x1="102.50" y1="378.5" x2="102.50" y2="384.6" stroke="#444" stroke-width="1"/><line x1="105.50" y1="378.5" x2="105.50" y2="381.4" stroke="#444" stroke-width="1"/><line x1="108.50" y1="378.5" x2="108.50" y2="381.4" stroke="#444" stroke-width="1"/><line x1="111.50" y1="378.5" x2="111.50" y2="381.4" stroke="#444" stroke-width="1"/><line x1="114.50" y1="378.5" x2="114.50" y2="381.4" stroke="#444" stroke-width="1"/><line x1="117.50" y1="378.5" x2="117.50" y2="387.3" stroke="#444" stroke-width="1"/><line x1="120.50" y1="378.5" x2="120.50" y2="381.4" stroke="#444" stroke-width="1"/><line x1="123.50" y1="378.5" x2="123.50" y2="381.4" stroke="#444" stroke-width="1"/><line x1="126.50" y1="378.5" x2="126.50" y2="381.4" stroke="#444" stroke-width="1"/><line x1="129.50" y1="378.5" x2="129.50" y2="381.4" stroke="#444" stroke-width="1"/><line x1="132.50" y1="378.5" x2="132.50" y2="384.6" stroke="#444" stroke-width="1"/><line x1="135.50" y1="378.5" x2="135.50" y2="381.4" stroke="#444" stroke-width="1"/><line x1="138.50" y1="378.5" x2="138.50" y2="381.4" stroke="#444" stroke-width="1"/><line x1="141.50" y1="378.5" x2="141.50" y2="381.4" stroke="#444" stroke-width="1"/><line x1="144.50" y1="378.5" x2="144.50" y2="381.4" stroke="#444" stroke-width="1"/><line x1="147.50" y1="378.5" x2="147.50" y2="387.3" stroke="#444" stroke-width="1"/><line x1="150.50" y1="378.5" x2="150.50" y2="381.4" stroke="#444" stroke-width="1"/><line x1="153.50" y1="378.5" x2="153.50" y2="381.4" stroke="#444" stroke-width="1"/><line x1="156.50" y1="378.5" x2="156.50" y2="381.4" stroke="#444" stroke-width="1"/><line x1="159.50" y1="378.5" x2="159.50" y2="381.4" stroke="#444" stroke-width="1"/><line x1="162.50" y1="378.5" x2="162.50" y2="384.6" stroke="#444" stroke-width="1"/><line x1="165.50" y1="378.5" x2="165.50" y2="381.4" stroke="#444" stroke-width="1"/><line x1="168.50" y1="378.5" x2="168.50" y2="381.4" stroke="#444" stroke-width="1"/><line x1="171.50" y1="378.5" x2="171.50" y2="381.4" stroke="#444" stroke-width="1"/><line x1="174.50" y1="378.5" x2="174.50" y2="381.4" stroke="#444" stroke-width="1"/><line x1="177.50" y1="378.5" x2="177.50" y2="387.3" stroke="#444" stroke-width="1"/><line x1="180.50" y1="378.5" x2="180.50" y2="381.4" stroke="#444" stroke-width="1"/><line x1="183.50" y1="378.5" x2="183.50" y2="381.4" stroke="#444" stroke-width="1"/><line x1="186.50" y1="378.5" x2="186.50" y2="381.4" stroke="#444" stroke-width="1"/><line x1="189.50" y1="378.5" x2="189.50" y2="381.4" stroke="#444" stroke-width="1"/><line x1="192.50" y1="378.5" x2="192.50" y2="384.6" stroke="#444" stroke-width="1"/><line x1="195.50" y1="378.5" x2="195.50" y2="381.4" stroke="#444" stroke-width="1"/><line x1="198.50" y1="378.5" x2="198.50" y2="381.4" stroke="#444" stroke-width="1"/><line x1="201.50" y1="378.5" x2="201.50" y2="381.4" stroke="#444" stroke-width="1"/><line x1="204.50" y1="378.5" x2="204.50" y2="381.4" stroke="#444" stroke-width="1"/><line x1="207.50" y1="378.5" x2="207.50" y2="387.3" stroke="#444" stroke-width="1"/><line x1="210.50" y1="378.5" x2="210.50" y2="381.4" stroke="#444" stroke-width="1"/><line x1="213.50" y1="378.5" x2="213.50" y2="381.4" stroke="#444" stroke-width="1"/><line x1="216.50" y1="378.5" x2="216.50" y2="381.4" stroke="#444" stroke-width="1"/><line x1="219.50" y1="378.5" x2="219.50" y2="381.4" stroke="#444" stroke-width="1"/><line x1="222.50" y1="378.5" x2="222.50" y2="384.6" stroke="#444" stroke-width="1"/><line x1="225.50" y1="378.5" x2="225.50" y2="381.4" stroke="#444" stroke-width="1"/><line x1="228.50" y1="378.5" x2="228.50" y2="381.4" stroke="#444" stroke-width="1"/><line x1="231.50" y1="378.5" x2="231.50" y2="381.4" stroke="#444" stroke-width="1"/><line x1="234.50" y1="378.5" x2="234.50" y2="381.4" stroke="#444" stroke-width="1"/><line x1="237.50" y1="378.5" x2="237.50" y2="387.3" stroke="#444" stroke-width="1"/><line x1="240.50" y1="378.5" x2="240.50" y2="381.4" stroke="#444" stroke-width="1"/><line x1="243.50" y1="378.5" x2="243.50" y2="381.4" stroke="#444" stroke-width="1"/><line x1="246.50" y1="378.5" x2="246.50" y2="381.4" stroke="#444" stroke-width="1"/><line x1="249.50" y1="378.5" x2="249.50" y2="381.4" stroke="#444" stroke-width="1"/><line x1="252.50" y1="378.5" x2="252.50" y2="384.6" stroke="#444" stroke-width="1"/><line x1="255.50" y1="378.5" x2="255.50" y2="381.4" stroke="#444" stroke-width="1"/><line x1="258.50" y1="378.5" x2="258.50" y2="381.4" stroke="#444" stroke-width="1"/><line x1="261.50" y1="378.5" x2="261.50" y2="381.4" stroke="#444" stroke-width="1"/><line x1="264.50" y1="378.5" x2="264.50" y2="381.4" stroke="#444" stroke-width="1"/><line x1="267.50" y1="378.5" x2="267.50" y2="387.3" stroke="#444" stroke-width="1"/><line x1="270.50" y1="378.5" x2="270.50" y2="381.4" stroke="#444" stroke-width="1"/><line x1="273.50" y1="378.5" x2="273.50" y2="381.4" stroke="#444" stroke-width="1"/><line x1="276.50" y1="378.5" x2="276.50" y2="381.4" stroke="#444" stroke-width="1"/><line x1="279.50" y1="378.5" x2="279.50" y2="381.4" stroke="#444" stroke-width="1"/><line x1="282.50" y1="378.5" x2="282.50" y2="384.6" stroke="#444" stroke-width="1"/><line x1="285.50" y1="378.5" x2="285.50" y2="381.4" stroke="#444" stroke-width="1"/><line x1="288.50" y1="378.5" x2="288.50" y2="381.4" stroke="#444" stroke-width="1"/><line x1="291.50" y1="378.5" x2="291.50" y2="381.4" stroke="#444" stroke-width="1"/><line x1="294.50" y1="378.5" x2="294.50" y2="381.4" stroke="#444" stroke-width="1"/><line x1="297.50" y1="378.5" x2="297.50" y2="387.3" stroke="#444" stroke-width="1"/><line x1="300.50" y1="378.5" x2="300.50" y2="381.4" stroke="#444" stroke-width="1"/><line x1="303.50" y1="378.5" x2="303.50" y2="381.4" stroke="#444" stroke-width="1"/><line x1="306.50" y1="378.5" x2="306.50" y2="381.4" stroke="#444" stroke-width="1"/><line x1="309.50" y1="378.5" x2="309.50" y2="381.4" stroke="#444" stroke-width="1"/><line x1="312.50" y1="378.5" x2="312.50" y2="384.6" stroke="#444" stroke-width="1"/><line x1="315.50" y1="378.5" x2="315.50" y2="381.4" stroke="#444" stroke-width="1"/><line x1="318.50" y1="378.5" x2="318.50" y2="381.4" stroke="#444" stroke-width="1"/><line x1="321.50" y1="378.5" x2="321.50" y2="381.4" stroke="#444" stroke-width="1"/><line x1="324.50" y1="378.5" x2="324.50" y2="381.4" stroke="#444" stroke-width="1"/><line x1="327.50" y1="378.5" x2="327.50" y2="387.3" stroke="#444" stroke-width="1"/><line x1="330.50" y1="378.5" x2="330.50" y2="381.4" stroke="#444" stroke-width="1"/><line x1="333.50" y1="378.5" x2="333.50" y2="381.4" stroke="#444" stroke-width="1"/><line x1="336.50" y1="378.5" x2="336.50" y2="381.4" stroke="#444" stroke-width="1"/><line x1="339.50" y1="378.5" x2="339.50" y2="381.4" stroke="#444" stroke-width="1"/><line x1="342.50" y1="378.5" x2="342.50" y2="384.6" stroke="#444" stroke-width="1"/><line x1="345.50" y1="378.5" x2="345.50" y2="381.4" stroke="#444" stroke-width="1"/><line x1="348.50" y1="378.5" x2="348.50" y2="381.4" stroke="#444" stroke-width="1"/><line x1="351.50" y1="378.5" x2="351.50" y2="381.4" stroke="#444" stroke-width="1"/><line x1="354.50" y1="378.5" x2="354.50" y2="381.4" stroke="#444" stroke-width="1"/><line x1="357.50" y1="378.5" x2="357.50" y2="387.3" stroke="#444" stroke-width="1"/><line x1="360.50" y1="378.5" x2="360.50" y2="381.4" stroke="#444" stroke-width="1"/><line x1="363.50" y1="378.5" x2="363.50" y2="381.4" stroke="#444" stroke-width="1"/><line x1="366.50" y1="378.5" x2="366.50" y2="381.4" stroke="#444" stroke-width="1"/><line x1="369.50" y1="378.5" x2="369.50" y2="381.4" stroke="#444" stroke-width="1"/><line x1="372.50" y1="378.5" x2="372.50" y2="384.6" stroke="#444" stroke-width="1"/><line x1="375.50" y1="378.5" x2="375.50" y2="381.4" stroke="#444" stroke-width="1"/><line x1="378.50" y1="378.5" x2="378.50" y2="381.4" stroke="#444" stroke-width="1"/><line x1="381.50" y1="378.5" x2="381.50" y2="381.4" stroke="#444" stroke-width="1"/><line x1="384.50" y1="378.5" x2="384.50" y2="381.4" stroke="#444" stroke-width="1"/><line x1="387.50" y1="378.5" x2="387.50" y2="387.3" stroke="#444" stroke-width="1"/><line x1="390.50" y1="378.5" x2="390.50" y2="381.4" stroke="#444" stroke-width="1"/><line x1="393.50" y1="378.5" x2="393.50" y2="381.4" stroke="#444" stroke-width="1"/><line x1="396.50" y1="378.5" x2="396.50" y2="381.4" stroke="#444" stroke-width="1"/><line x1="399.50" y1="378.5" x2="399.50" y2="381.4" stroke="#444" stroke-width="1"/><line x1="402.50" y1="378.5" x2="402.50" y2="384.6" stroke="#444" stroke-width="1"/><line x1="405.50" y1="378.5" x2="405.50" y2="381.4" stroke="#444" stroke-width="1"/><line x1="408.50" y1="378.5" x2="408.50" y2="381.4" stroke="#444" stroke-width="1"/><line x1="411.50" y1="378.5" x2="411.50" y2="381.4" stroke="#444" stroke-width="1"/><line x1="414.50" y1="378.5" x2="414.50" y2="381.4" stroke="#444" stroke-width="1"/><line x1="417.50" y1="378.5" x2="417.50" y2="387.3" stroke="#444" stroke-width="1"/><line x1="420.50" y1="378.5" x2="420.50" y2="381.4" stroke="#444" stroke-width="1"/><line x1="423.50" y1="378.5" x2="423.50" y2="381.4" stroke="#444" stroke-width="1"/><line x1="426.50" y1="378.5" x2="426.50" y2="381.4" stroke="#444" stroke-width="1"/><line x1="429.50" y1="378.5" x2="429.50" y2="381.4" stroke="#444" stroke-width="1"/><line x1="432.50" y1="378.5" x2="432.50" y2="384.6" stroke="#444" stroke-width="1"/><line x1="435.50" y1="378.5" x2="435.50" y2="381.4" stroke="#444" stroke-width="1"/><line x1="438.50" y1="378.5" x2="438.50" y2="381.4" stroke="#444" stroke-width="1"/><line x1="441.50" y1="378.5" x2="441.50" y2="381.4" stroke="#444" stroke-width="1"/><line x1="444.50" y1="378.5" x2="444.50" y2="381.4" stroke="#444" stroke-width="1"/><line x1="447.50" y1="378.5" x2="447.50" y2="387.3" stroke="#444" stroke-width="1"/><line x1="450.50" y1="378.5" x2="450.50" y2="381.4" stroke="#444" stroke-width="1"/><line x1="453.50" y1="378.5" x2="453.50" y2="381.4" stroke="#444" stroke-width="1"/><line x1="456.50" y1="378.5" x2="456.50" y2="381.4" stroke="#444" stroke-width="1"/><line x1="459.50" y1="378.5" x2="459.50" y2="381.4" stroke="#444" stroke-width="1"/><line x1="462.50" y1="378.5" x2="462.50" y2="384.6" stroke="#444" stroke-width="1"/><line x1="465.50" y1="378.5" x2="465.50" y2="381.4" stroke="#444" stroke-width="1"/><line x1="468.50" y1="378.5" x2="468.50" y2="381.4" stroke="#444" stroke-width="1"/><line x1="471.50" y1="378.5" x2="471.50" y2="381.4" stroke="#444" stroke-width="1"/><line x1="474.50" y1="378.5" x2="474.50" y2="381.4" stroke="#444" stroke-width="1"/><line x1="477.50" y1="378.5" x2="477.50" y2="387.3" stroke="#444" stroke-width="1"/><line x1="480.50" y1="378.5" x2="480.50" y2="381.4" stroke="#444" stroke-width="1"/><line x1="483.50" y1="378.5" x2="483.50" y2="381.4" stroke="#444" stroke-width="1"/><line x1="486.50" y1="378.5" x2="486.50" y2="381.4" stroke="#444" stroke-width="1"/><line x1="489.50" y1="378.5" x2="489.50" y2="381.4" stroke="#444" stroke-width="1"/><line x1="492.50" y1="378.5" x2="492.50" y2="384.6" stroke="#444" stroke-width="1"/><line x1="495.50" y1="378.5" x2="495.50" y2="381.4" stroke="#444" stroke-width="1"/><line x1="498.50" y1="378.5" x2="498.50" y2="381.4" stroke="#444" stroke-width="1"/><line x1="501.50" y1="378.5" x2="501.50" y2="381.4" stroke="#444" stroke-width="1"/><line x1="504.50" y1="378.5" x2="504.50" y2="381.4" stroke="#444" stroke-width="1"/><line x1="507.50" y1="378.5" x2="507.50" y2="387.3" stroke="#444" stroke-width="1"/><line x1="510.50" y1="378.5" x2="510.50" y2="381.4" stroke="#444" stroke-width="1"/><line x1="513.50" y1="378.5" x2="513.50" y2="381.4" stroke="#444" stroke-width="1"/><line x1="516.50" y1="378.5" x2="516.50" y2="381.4" stroke="#444" stroke-width="1"/><line x1="519.50" y1="378.5" x2="519.50" y2="381.4" stroke="#444" stroke-width="1"/><line x1="522.50" y1="378.5" x2="522.50" y2="384.6" stroke="#444" stroke-width="1"/><line x1="525.50" y1="378.5" x2="525.50" y2="381.4" stroke="#444" stroke-width="1"/><line x1="528.50" y1="378.5" x2="528.50" y2="381.4" stroke="#444" stroke-width="1"/><line x1="531.50" y1="378.5" x2="531.50" y2="381.4" stroke="#444" stroke-width="1"/><line x1="534.50" y1="378.5" x2="534.50" y2="381.4" stroke="#444" stroke-width="1"/><line x1="537.50" y1="378.5" x2="537.50" y2="387.3" stroke="#444" stroke-width="1"/>
<text x="57.10" y="398.9" text-anchor="middle" class="t" font-size="10.2">-10.0</text>
<text x="87.10" y="398.9" text-anchor="middle" class="t" font-size="10.2">-8.0</text>
<text x="117.10" y="398.9" text-anchor="middle" class="t" font-size="10.2">-6.0</text>
<text x="147.10" y="398.9" text-anchor="middle" class="t" font-size="10.2">-4.0</text>
<text x="177.10" y="398.9" text-anchor="middle" class="t" font-size="10.2">-2.0</text>
<text x="207.10" y="398.9" text-anchor="middle" class="t" font-size="10.2">0.0</text>
<text x="237.10" y="398.9" text-anchor="middle" class="t" font-size="10.2">2.0</text>
<text x="267.10" y="398.9" text-anchor="middle" class="t" font-size="10.2">4.0</text>
<text x="297.10" y="398.9" text-anchor="middle" class="t" font-size="10.2">6.0</text>
<text x="327.10" y="398.9" text-anchor="middle" class="t" font-size="10.2">8.0</text>
<text x="357.10" y="398.9" text-anchor="middle" class="t" font-size="10.2">10.0</text>
<text x="387.10" y="398.9" text-anchor="middle" class="t" font-size="10.2">12.0</text>
<text x="417.10" y="398.9" text-anchor="middle" class="t" font-size="10.2">14.0</text>
<text x="447.10" y="398.9" text-anchor="middle" class="t" font-size="10.2">16.0</text>
<text x="477.10" y="398.9" text-anchor="middle" class="t" font-size="10.2">18.0</text>
<text x="507.10" y="398.9" text-anchor="middle" class="t" font-size="10.2">20.0</text>
<text x="537.10" y="398.9" text-anchor="middle" class="t" font-size="10.2">22.0</text>
<text x="297.2" y="410.5" text-anchor="middle" class="t" font-size="10">Values (u)</text>
</svg></body></html>
